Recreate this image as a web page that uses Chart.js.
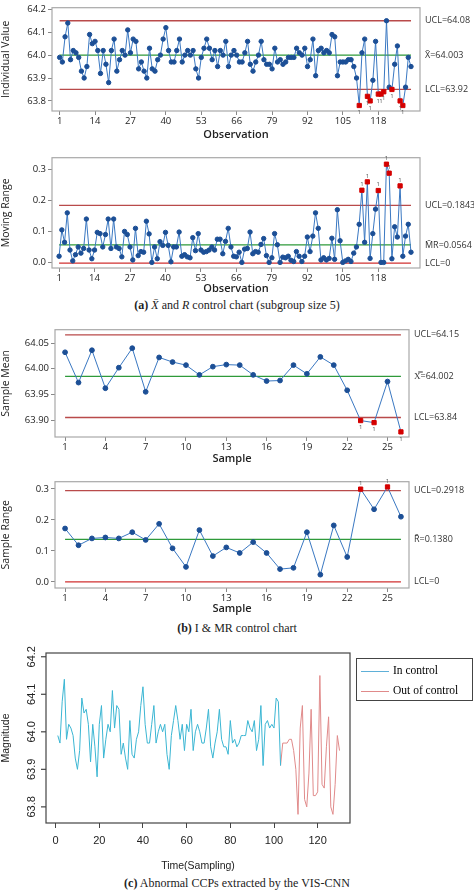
<!DOCTYPE html>
<html>
<head>
<meta charset="utf-8">
<script src="https://cdn.jsdelivr.net/npm/chart.js@4"></script>
<style>
  body { margin: 0; background: #fff; width: 474px; height: 894px; position: relative; overflow: hidden; }
  canvas { position: absolute; left: 0; }
  .cap { position: absolute; left: 0; width: 474px; text-align: center; font: 12px "Liberation Serif", serif; color: #222; }
  .cap b { font-weight: bold; }
  #legend { position: absolute; left: 356px; top: 658px; width: 115px; height: 41px; border: 1.5px solid #444; font: 11.5px "Liberation Serif", serif; }
  #legend div { position: absolute; left: 4px; }
  #legend span { display: inline-block; width: 28px; height: 0; border-top: 1px solid; vertical-align: middle; margin-right: 4px; }
</style>
</head>
<body>
<canvas id="c1" width="474" height="141" style="top:0"></canvas>
<canvas id="c2" width="474" height="145" style="top:150px"></canvas>
<div class="cap" style="top:298px"><b>(a)</b> <i>X̄</i> and <i>R</i> control chart (subgroup size 5)</div>
<canvas id="c3" width="474" height="143" style="top:322px"></canvas>
<canvas id="c4" width="474" height="141" style="top:474px"></canvas>
<div class="cap" style="top:621px"><b>(b)</b> I &amp; MR control chart</div>
<canvas id="c5" width="474" height="231" style="top:645px"></canvas>
<div id="legend">
  <div style="top:5px"><span style="border-color:#5fb0d8"></span>In control</div>
  <div style="top:25px"><span style="border-color:#e08a8a"></span>Out of control</div>
</div>
<div class="cap" style="top:876px"><b>(c)</b> Abnormal CCPs extracted by the VIS-CNN</div>
<script>
// individual observations 1..130
var individual = [63.99,63.97,64.08,64.14,63.98,64.02,64.01,63.99,63.93,63.90,
  63.95,64.09,64.05,64.06,64.02,63.92,64.02,63.96,63.88,64.02,
  64.07,63.93,63.98,64.02,64.00,64.11,64.01,64.07,64.06,63.94,
  63.97,63.93,63.90,64.03,63.94,63.93,63.98,64.00,64.07,64.12,
  64.02,63.97,63.97,64.02,64.07,63.97,64.00,64.02,64.00,64.02,
  63.94,63.90,63.99,64.03,64.07,64.03,63.98,64.02,63.95,64.02,
  64.00,64.06,63.95,64.00,64.02,64.00,63.97,63.97,64.01,64.06,
  63.96,63.93,63.97,64.00,64.06,63.98,63.96,63.96,63.94,64.03,
  63.97,63.98,63.96,63.97,63.99,63.99,63.99,64.03,64.01,64.00,
  64.03,63.95,63.98,64.07,63.91,64.02,64.03,64.01,64.02,64.01,
  64.09,64.08,63.91,63.97,63.97,63.97,63.98,63.98,63.95,63.90,
  63.78,64.01,64.07,63.82,63.80,63.89,64.06,63.83,63.83,63.84,
  64.15,63.86,63.85,63.96,64.04,63.80,63.78,63.86,63.99,63.95];
var individualOut = [111,114,115,118,119,120,123,126,127];

var movingRange = [0.02,0.105,0.065,0.16,0.04,0.005,0.025,0.05,0.03,0.045,
  0.14,0.04,0.012,0.04,0.097,0.093,0.05,0.09,0.14,0.045,
  0.14,0.05,0.045,0.018,0.10,0.09,0.05,0.008,0.11,0.022,
  0.035,0.033,0.133,0.092,0.0,0.05,0.012,0.067,0.055,0.097,
  0.055,0.002,0.05,0.05,0.098,0.02,0.025,0.018,0.015,0.08,
  0.038,0.093,0.04,0.033,0.035,0.04,0.05,0.04,0.075,0.075,
  0.028,0.068,0.11,0.05,0.02,0.018,0.033,0.0,0.043,0.045,
  0.098,0.028,0.035,0.033,0.058,0.077,0.022,0.0,0.015,0.093,
  0.057,0.0,0.017,0.015,0.02,0.007,0.003,0.035,0.02,0.003,
  0.02,0.082,0.035,0.085,0.16,0.11,0.008,0.015,0.008,0.013,
  0.078,0.01,0.17,0.07,0.0,0.005,0.01,0.003,0.03,0.05,
  0.123,0.233,0.065,0.26,0.013,0.093,0.172,0.232,0.0,0.0,
  0.317,0.288,0.012,0.115,0.082,0.247,0.02,0.085,0.123,0.033];
var mrOut = [112,114,118,121,122,126];

var sampleMean = [64.032,63.973,64.036,63.962,64.002,64.040,63.955,64.022,64.013,64.007,
  63.988,64.004,64.008,64.007,63.988,63.976,63.977,64.007,63.990,64.023,
  64.007,63.958,63.899,63.895,63.975,63.877];
var meanOut = [23,24,26];
var sampleRange = [0.172,0.118,0.14,0.143,0.14,0.16,0.135,0.187,0.108,0.048,
  0.167,0.083,0.111,0.093,0.128,0.093,0.041,0.045,0.16,0.023,
  0.182,0.08,0.299,0.234,0.306,0.21];
var rangeOut = [23,25];

var obsTicks = [1,14,27,40,53,66,79,92,105,118];
var sampleTicks = [1,4,7,10,13,16,19,22,25];

var BLUE_LINE = '#3a78c2', BLUE_PT = '#1c4f96', RED = '#d40000';
var LIMIT = '#b94a4a', CENTER = '#2e9a3a';

function pts(arr) { return arr.map(function (v, i) { return { x: i + 1, y: v }; }); }
function hline(x0, x1, v, color) {
  return { data: [{ x: x0, y: v }, { x: x1, y: v }], borderColor: color, borderWidth: 1.3, pointRadius: 0, order: 2 };
}

var frame = {
  id: 'frame',
  beforeDraw: function (c) {
    var ctx = c.ctx;
    ctx.save(); ctx.fillStyle = '#fff'; ctx.fillRect(0, 0, c.width, c.height); ctx.restore();
  },
  afterDraw: function (c) {
    var o = c.options.plugins.frame || {}, a = c.chartArea, ctx = c.ctx;
    ctx.save();
    ctx.strokeStyle = '#a8a8a8'; ctx.lineWidth = 1.2;
    ctx.strokeRect(a.left, a.top, a.right - a.left, a.bottom - a.top);
    ctx.fillStyle = '#333'; ctx.font = '9px "Open Sans"'; ctx.textBaseline = 'middle';
    (o.side || []).forEach(function (s) {
      ctx.fillText(s.text, a.right + 5, c.scales.y.getPixelForValue(s.v));
    });
    // "1" flags near out-of-control points
    ctx.fillStyle = '#555'; ctx.font = '6px "Open Sans"'; ctx.textAlign = 'center';
    (o.flags || []).forEach(function (i) {
      var el = c.getDatasetMeta(0).data[i - 1];
      ctx.fillText('1', el.x, el.y + (o.flagDir || 7));
    });
    ctx.restore();
  }
};

function minitab(id, data, outIdx, opts) {
  var n = data.length;
  var colors = data.map(function (v, i) { return outIdx.indexOf(i + 1) >= 0 ? RED : BLUE_PT; });
  var styles = data.map(function (v, i) { return outIdx.indexOf(i + 1) >= 0 ? 'rect' : 'circle'; });
  var radius = data.map(function (v, i) { return outIdx.indexOf(i + 1) >= 0 ? 3 : opts.r; });
  var sets = [{ data: pts(data), borderColor: BLUE_LINE, borderWidth: 1, pointBackgroundColor: colors,
      pointBorderColor: colors, pointStyle: styles, pointRadius: radius, order: 1 }];
  opts.limits.forEach(function (l) { sets.push(hline(1, n, l.v, l.c)); });
  return new Chart(document.getElementById(id), {
    type: 'line',
    data: { datasets: sets },
    options: {
      responsive: false, animation: false,
      layout: { padding: { top: opts.top, right: 474 - opts.right, left: 0, bottom: 0 } },
      plugins: { legend: { display: false }, tooltip: { enabled: false },
        frame: { side: opts.limits.map(function (l) { return { v: l.v, text: l.text }; }), flags: outIdx, flagDir: opts.flagDir } },
      scales: {
        x: { type: 'linear', min: opts.xmin, max: opts.xmax,
          afterBuildTicks: function (s) { s.ticks = opts.xt.map(function (v) { return { value: v }; }); },
          afterFit: function (s) { s.height = opts.xh; },
          grid: { drawOnChartArea: false, tickLength: 4, color: '#888' }, border: { display: false },
          ticks: { font: { size: 9.5, family: 'Open Sans' }, color: '#222', padding: 1 },
          title: { display: true, text: opts.xtitle, font: { size: 11, family: 'Open Sans', weight: '600' }, color: '#222', padding: 0 } },
        y: { min: opts.ymin, max: opts.ymax,
          afterBuildTicks: function (s) { s.ticks = opts.yt.map(function (v) { return { value: v }; }); },
          afterFit: function (s) { s.width = opts.left; },
          grid: { drawOnChartArea: false, tickLength: 4, color: '#888' }, border: { display: false },
          ticks: { font: { size: 9.5, family: 'Open Sans' }, color: '#222', padding: 2,
            callback: function (v) { return v.toFixed(opts.dec); } },
          title: { display: true, text: opts.ytitle, font: { size: 10.5, family: 'Open Sans' }, color: '#222', padding: 0 } }
      }
    },
    plugins: [frame]
  });
}

minitab('c1', individual, individualOut, { top: 4, right: 420, left: 52, xh: 30, r: 2.2, flagDir: 7,
  xmin: -1.8, xmax: 133.3, ymin: 63.756, ymax: 64.207, yt: [63.8, 63.9, 64.0, 64.1, 64.2], dec: 1, xt: obsTicks,
  xtitle: 'Observation', ytitle: 'Individual Value',
  limits: [{ v: 64.15, c: LIMIT, text: 'UCL=64.08' }, { v: 64.0, c: CENTER, text: 'X̄=64.003' }, { v: 63.85, c: LIMIT, text: 'LCL=63.92' }] });

minitab('c2', movingRange, mrOut, { top: 5, right: 420, left: 52, xh: 27, r: 2.2, flagDir: -6,
  xmin: -1.6, xmax: 133.3, ymin: -0.018, ymax: 0.338, yt: [0, 0.1, 0.2, 0.3], dec: 1, xt: obsTicks,
  xtitle: 'Observation', ytitle: 'Moving Range',
  limits: [{ v: 0.1843, c: LIMIT, text: 'UCL=0.1843' }, { v: 0.0564, c: CENTER, text: 'M̄R=0.0564' }, { v: -0.002, c: '#d03030', text: 'LCL=0' }] });

minitab('c3', sampleMean, meanOut, { top: 5, right: 409, left: 55, xh: 28, r: 2.4, flagDir: 7,
  xmin: 0.25, xmax: 26.6, ymin: 63.867, ymax: 64.076, yt: [63.90, 63.95, 64.00, 64.05], dec: 2, xt: sampleTicks,
  xtitle: 'Sample', ytitle: 'Sample Mean',
  limits: [{ v: 64.066, c: LIMIT, text: 'UCL=64.15' }, { v: 63.985, c: CENTER, text: 'X̿=64.002' }, { v: 63.905, c: LIMIT, text: 'LCL=63.84' }] });

minitab('c4', sampleRange, rangeOut, { top: 5, right: 409, left: 55, xh: 27, r: 2.4, flagDir: -6,
  xmin: 0.25, xmax: 26.6, ymin: -0.02, ymax: 0.323, yt: [0, 0.1, 0.2, 0.3], dec: 1, xt: sampleTicks,
  xtitle: 'Sample', ytitle: 'Sample Range',
  limits: [{ v: 0.294, c: LIMIT, text: 'UCL=0.2918' }, { v: 0.137, c: CENTER, text: 'R̄=0.1380' }, { v: 0.0, c: '#d03030', text: 'LCL=0' }] });

// panel (c): same series, split at observation 103
var splitAt = 103;
var inCtrl = pts(individual).slice(0, splitAt);
var outCtrl = pts(individual).slice(splitAt - 1);
var rTicks = {
  id: 'rTicks',
  afterDraw: function (c) {
    var ctx = c.ctx, a = c.chartArea, y = c.scales.y;
    ctx.save();
    ctx.strokeStyle = '#444'; ctx.lineWidth = 1.2;
    ctx.strokeRect(a.left, a.top, a.right - a.left, a.bottom - a.top);
    ctx.fillStyle = '#222'; ctx.font = '11px "Liberation Sans"'; ctx.textAlign = 'center';
    y.ticks.forEach(function (t) {
      var py = y.getPixelForValue(t.value);
      ctx.beginPath(); ctx.moveTo(a.left, py); ctx.lineTo(a.left - 5, py); ctx.stroke();
      ctx.save(); ctx.translate(a.left - 11, py); ctx.rotate(-Math.PI / 2);
      ctx.fillText(t.value.toFixed(1), 0, 0); ctx.restore();
    });
    ctx.restore();
  }
};
new Chart(document.getElementById('c5'), {
  type: 'line',
  data: { datasets: [
    { data: inCtrl, borderColor: '#3bb6d3', borderWidth: 1, pointRadius: 0 },
    { data: outCtrl, borderColor: '#e08a8a', borderWidth: 1, pointRadius: 0 }
  ] },
  options: {
    responsive: false, animation: false,
    layout: { padding: { top: 8, right: 474 - 350, left: 0, bottom: 0 } },
    plugins: { legend: { display: false }, tooltip: { enabled: false } },
    scales: {
      x: { type: 'linear', min: -4.4, max: 134.8,
        afterBuildTicks: function (s) { s.ticks = [0, 20, 40, 60, 80, 100, 120].map(function (v) { return { value: v }; }); },
        afterFit: function (s) { s.height = 53; },
        grid: { drawOnChartArea: false, tickLength: 5, color: '#444' }, border: { display: false },
        ticks: { font: { size: 11, family: 'Liberation Sans' }, color: '#222', padding: 6 },
        title: { display: true, text: 'Time(Sampling)', font: { size: 10.5, family: 'Liberation Sans' }, color: '#222', padding: { top: 12 } } },
      y: { min: 63.757, max: 64.21,
        afterBuildTicks: function (s) { s.ticks = [63.8, 63.9, 64.0, 64.1, 64.2].map(function (v) { return { value: v }; }); },
        afterFit: function (s) { s.width = 46; },
        grid: { display: false }, border: { display: false },
        ticks: { display: false },
        title: { display: true, text: 'Magnitude', font: { size: 10.5, family: 'Liberation Sans' }, color: '#222', padding: 0 } }
    }
  },
  plugins: [rTicks]
});
</script>
</body>
</html>
